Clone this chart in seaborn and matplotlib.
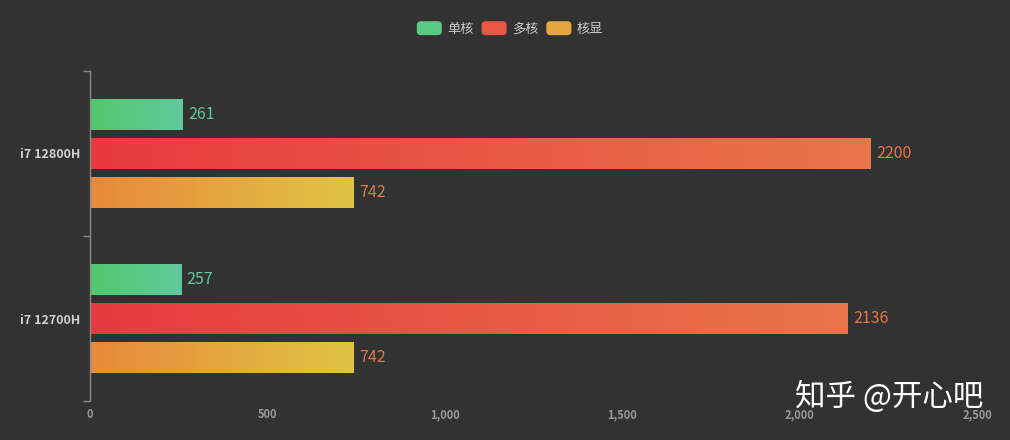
import numpy as np
import pandas as pd
import matplotlib
matplotlib.use("Agg")
import matplotlib.pyplot as plt
import seaborn as sns
from matplotlib.colors import LinearSegmentedColormap
from matplotlib.patches import FancyBboxPatch
from matplotlib.legend_handler import HandlerBase
from matplotlib.ticker import FuncFormatter, FixedLocator

cpus = ["i7 12800H", "i7 12700H"]
series = ["单核", "多核", "核显"]
single_core = [261, 257]
multi_core = [2200, 2136]
igpu = [742, 742]
x_ticks = [0, 500, 1000, 1500, 2000, 2500]

grad = {
    "单核": ("#52c86c", "#62c99c"),
    "多核": ("#e8393f", "#e8764a"),
    "核显": ("#e8893a", "#e0c444"),
}
label_colors = {"单核": "#62c99c", "多核": "#e8764a", "核显": "#e0784c"}
bg = "#323232"

sns.set_theme(style="dark")
plt.rcParams["font.family"] = ["Noto Sans CJK SC", "DejaVu Sans"]

df = pd.DataFrame({
    "cpu": cpus * 3,
    "series": [s for s in series for _ in cpus],
    "value": single_core + multi_core + igpu,
})

fig = plt.figure(figsize=(10.1, 4.4), dpi=100, facecolor=bg)
ax = fig.add_axes([90 / 1010, 39 / 440, 887 / 1010, 330 / 440])
ax.set_facecolor(bg)

palette = {s: grad[s][0] for s in series}
sns.barplot(data=df, y="cpu", x="value", hue="series", hue_order=series,
            order=cpus, orient="h", palette=palette, width=0.709, gap=0.23,
            legend=False, ax=ax, saturation=1)

ax.set_xlim(0, 2500)
ax.set_ylim(1.5, -0.5)

# gradient fill of bars
for cont, s in zip(ax.containers, series):
    cmap = LinearSegmentedColormap.from_list(s, list(grad[s]))
    g = np.linspace(0, 1, 256).reshape(1, -1)
    for p in cont.patches:
        x0, y0 = p.get_x(), p.get_y()
        w, h = p.get_width(), p.get_height()
        p.set_facecolor("none")
        p.set_edgecolor("none")
        im = ax.imshow(g, cmap=cmap, aspect="auto",
                       extent=[x0, x0 + w, y0 + h, y0], zorder=2,
                       interpolation="bicubic")
        im.set_clip_path(p)
    ax.bar_label(cont, labels=[f"{int(v)}" for v in cont.datavalues],
                 padding=4, color=label_colors[s], fontsize=11.5)
ax.set_xlim(0, 2500)
ax.set_ylim(1.5, -0.5)

ax.set_xlabel("")
ax.set_ylabel("")
ax.grid(False)
for sp in ["top", "right", "bottom"]:
    ax.spines[sp].set_visible(False)
ax.spines["left"].set_color("#8a8a8a")
ax.spines["left"].set_linewidth(1)

ax.xaxis.set_major_locator(FixedLocator(x_ticks))
ax.xaxis.set_major_formatter(FuncFormatter(lambda v, p: f"{int(v):,}"))
ax.tick_params(axis="x", length=0, pad=5, labelsize=8, labelcolor="#9a9a9a")
for t in ax.get_xticklabels():
    t.set_fontweight("bold")

ax.set_yticks([0, 1])
ax.set_yticklabels(cpus)
ax.set_yticks([-0.5, 0.5, 1.5], minor=True)
ax.tick_params(axis="y", which="major", length=0, pad=7, labelsize=9,
               labelcolor="#d0d0d0")
ax.tick_params(axis="y", which="minor", length=5, color="#8a8a8a", left=True)
for t in ax.get_yticklabels():
    t.set_fontweight("bold")

# legend
class GradHandler(HandlerBase):
    def __init__(self, colors):
        super().__init__()
        self.colors = colors
    def create_artists(self, legend, orig_handle, xdescent, ydescent, width,
                       height, fontsize, trans):
        hh = 14 * 0.72  # ~14 px tall box
        p = FancyBboxPatch((-xdescent, -ydescent + (height - hh) / 2), width, hh,
                           boxstyle="round,pad=0,rounding_size=3",
                           facecolor=self.colors[orig_handle.get_label()],
                           edgecolor="none", transform=trans)
        return [p]

handles = [plt.Rectangle((0, 0), 1, 1, label=s) for s in series]
mid = {s: tuple((np.array(matplotlib.colors.to_rgb(grad[s][0])) +
                 np.array(matplotlib.colors.to_rgb(grad[s][1]))) / 2)
       for s in series}
leg = fig.legend(handles=handles, labels=series, loc="center",
                 bbox_to_anchor=(0.5 + 5 / 1010, 1 - 29 / 440), ncol=3,
                 frameon=False,
                 handler_map={h: GradHandler(mid) for h in handles},
                 handlelength=1.9, handleheight=1.0, handletextpad=0.4,
                 columnspacing=0.6, fontsize=9.5)
for t in leg.get_texts():
    t.set_color("#cccccc")

fig.text(795 / 1010, 1 - 397 / 440, "知乎 @开心吧", fontsize=22, color="white",
         va="center", ha="left")

fig.savefig("out.png", dpi=100, facecolor=bg)
